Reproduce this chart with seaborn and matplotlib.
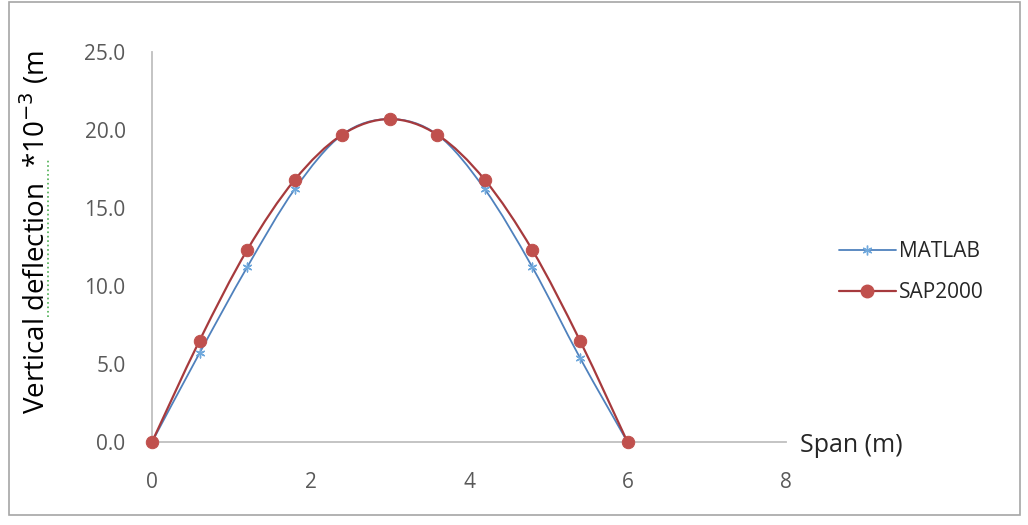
import numpy as np
import pandas as pd
import matplotlib
matplotlib.use("Agg")
import matplotlib.pyplot as plt
import seaborn as sns
from matplotlib.path import Path
from matplotlib.patches import PathPatch, Rectangle
from matplotlib.lines import Line2D

# values
span = [0.0, 0.6, 1.2, 1.8, 2.4, 3.0, 3.6, 4.2, 4.8, 5.4, 6.0]
matlab = [0.0, 5.7, 11.2, 16.2, 19.7, 20.7, 19.7, 16.2, 11.2, 5.4, 0.0]
sap2000 = [0.0, 6.5, 12.3, 16.8, 19.7, 20.7, 19.7, 16.8, 12.3, 6.5, 0.0]
x_ticks = [0, 2, 4, 6, 8]
y_ticks = [0, 5, 10, 15, 20, 25]

df = pd.DataFrame({"span": span, "MATLAB": matlab, "SAP2000": sap2000})

sns.set_style("white")
plt.rcParams["font.family"] = ["Open Sans", "DejaVu Sans"]

blue_line = "#4F81BD"
blue_mark = "#6FA8DC"
red_line = "#A63A3D"
red_mark = "#C0504D"
grey = "#BFBFBF"
tick_col = "#595959"
star = (6, 2, 0)


def smooth_path(xs, ys):
    # excel style smoothed line: bezier segments through every point
    pts = np.column_stack([xs, ys])
    verts = [pts[0]]
    codes = [Path.MOVETO]
    for i in range(len(pts) - 1):
        p0 = pts[max(i - 1, 0)]
        p1 = pts[i]
        p2 = pts[i + 1]
        p3 = pts[min(i + 2, len(pts) - 1)]
        verts += [p1 + (p2 - p0) / 6, p2 - (p3 - p1) / 6, p2]
        codes += [Path.CURVE4] * 3
    return Path(verts, codes)


fig = plt.figure(figsize=(10.28, 5.25), dpi=100)
ax = fig.add_axes([152 / 1028, 1 - 442 / 525, 634 / 1028, 390 / 525])

ax.add_patch(PathPatch(smooth_path(df["span"], df["MATLAB"]), fill=False,
                       edgecolor=blue_line, lw=1.3, zorder=2))
ax.add_patch(PathPatch(smooth_path(df["span"], df["SAP2000"]), fill=False,
                       edgecolor=red_line, lw=1.6, zorder=3))

sns.scatterplot(data=df, x="span", y="MATLAB", marker=star, s=40,
                color=blue_mark, edgecolor=blue_mark, linewidth=1.0, ax=ax, zorder=4)
sns.scatterplot(data=df, x="span", y="SAP2000", marker="o", s=80,
                color=red_mark, edgecolor=red_mark, ax=ax, zorder=5)

ax.set_xlim(0, 8)
ax.set_ylim(0, 25)
ax.set_xticks(x_ticks)
ax.set_yticks(y_ticks)
ax.set_yticklabels([f"{v:.1f}" for v in y_ticks])
ax.set_xlabel("")
ax.set_ylabel("")

for side in ["top", "right"]:
    ax.spines[side].set_visible(False)
for side in ["left", "bottom"]:
    ax.spines[side].set_color(grey)
    ax.spines[side].set_linewidth(1.3)

ax.tick_params(axis="x", direction="inout", length=7, width=1, color=grey,
               labelsize=15, labelcolor=tick_col, pad=18)
ax.tick_params(axis="y", direction="out", length=5, width=1, color=grey,
               labelsize=15, labelcolor=tick_col, pad=14)
for coll in ax.collections:
    coll.set_clip_on(False)

fig.text(35 / 1028, 1 - 232 / 525, "Vertical deflection  *10$^{-3}$ (m", rotation=90,
         fontsize=20, va="center", ha="center", color="black")
# spell check squiggle under "deflection"
fig.add_artist(Line2D([48 / 1028, 48 / 1028], [1 - 317 / 525, 1 - 160 / 525],
                      transform=fig.transFigure, color="#4CAF50", lw=1.2, ls=":"))

fig.text(800 / 1028, 1 - 446 / 525, "Span (m)", fontsize=18, va="center", ha="left")

handles = [
    Line2D([], [], color=blue_line, lw=1.3, marker=star, markersize=7,
           markeredgecolor=blue_mark),
    Line2D([], [], color=red_line, lw=1.6, marker="o", markersize=9,
           markerfacecolor=red_mark, markeredgecolor=red_mark),
]
fig.legend(handles, ["MATLAB", "SAP2000"], loc="center left",
           bbox_to_anchor=(820 / 1028, 1 - 272 / 525), frameon=False, fontsize=15,
           handlelength=2.75, handletextpad=0.15, labelspacing=0.95)

fig.add_artist(Rectangle((9 / 1028, 10 / 525), 1011 / 1028, 513 / 525,
                         transform=fig.transFigure, fill=False,
                         edgecolor="#A6A6A6", lw=1.2))

fig.savefig("out.png", dpi=100)
